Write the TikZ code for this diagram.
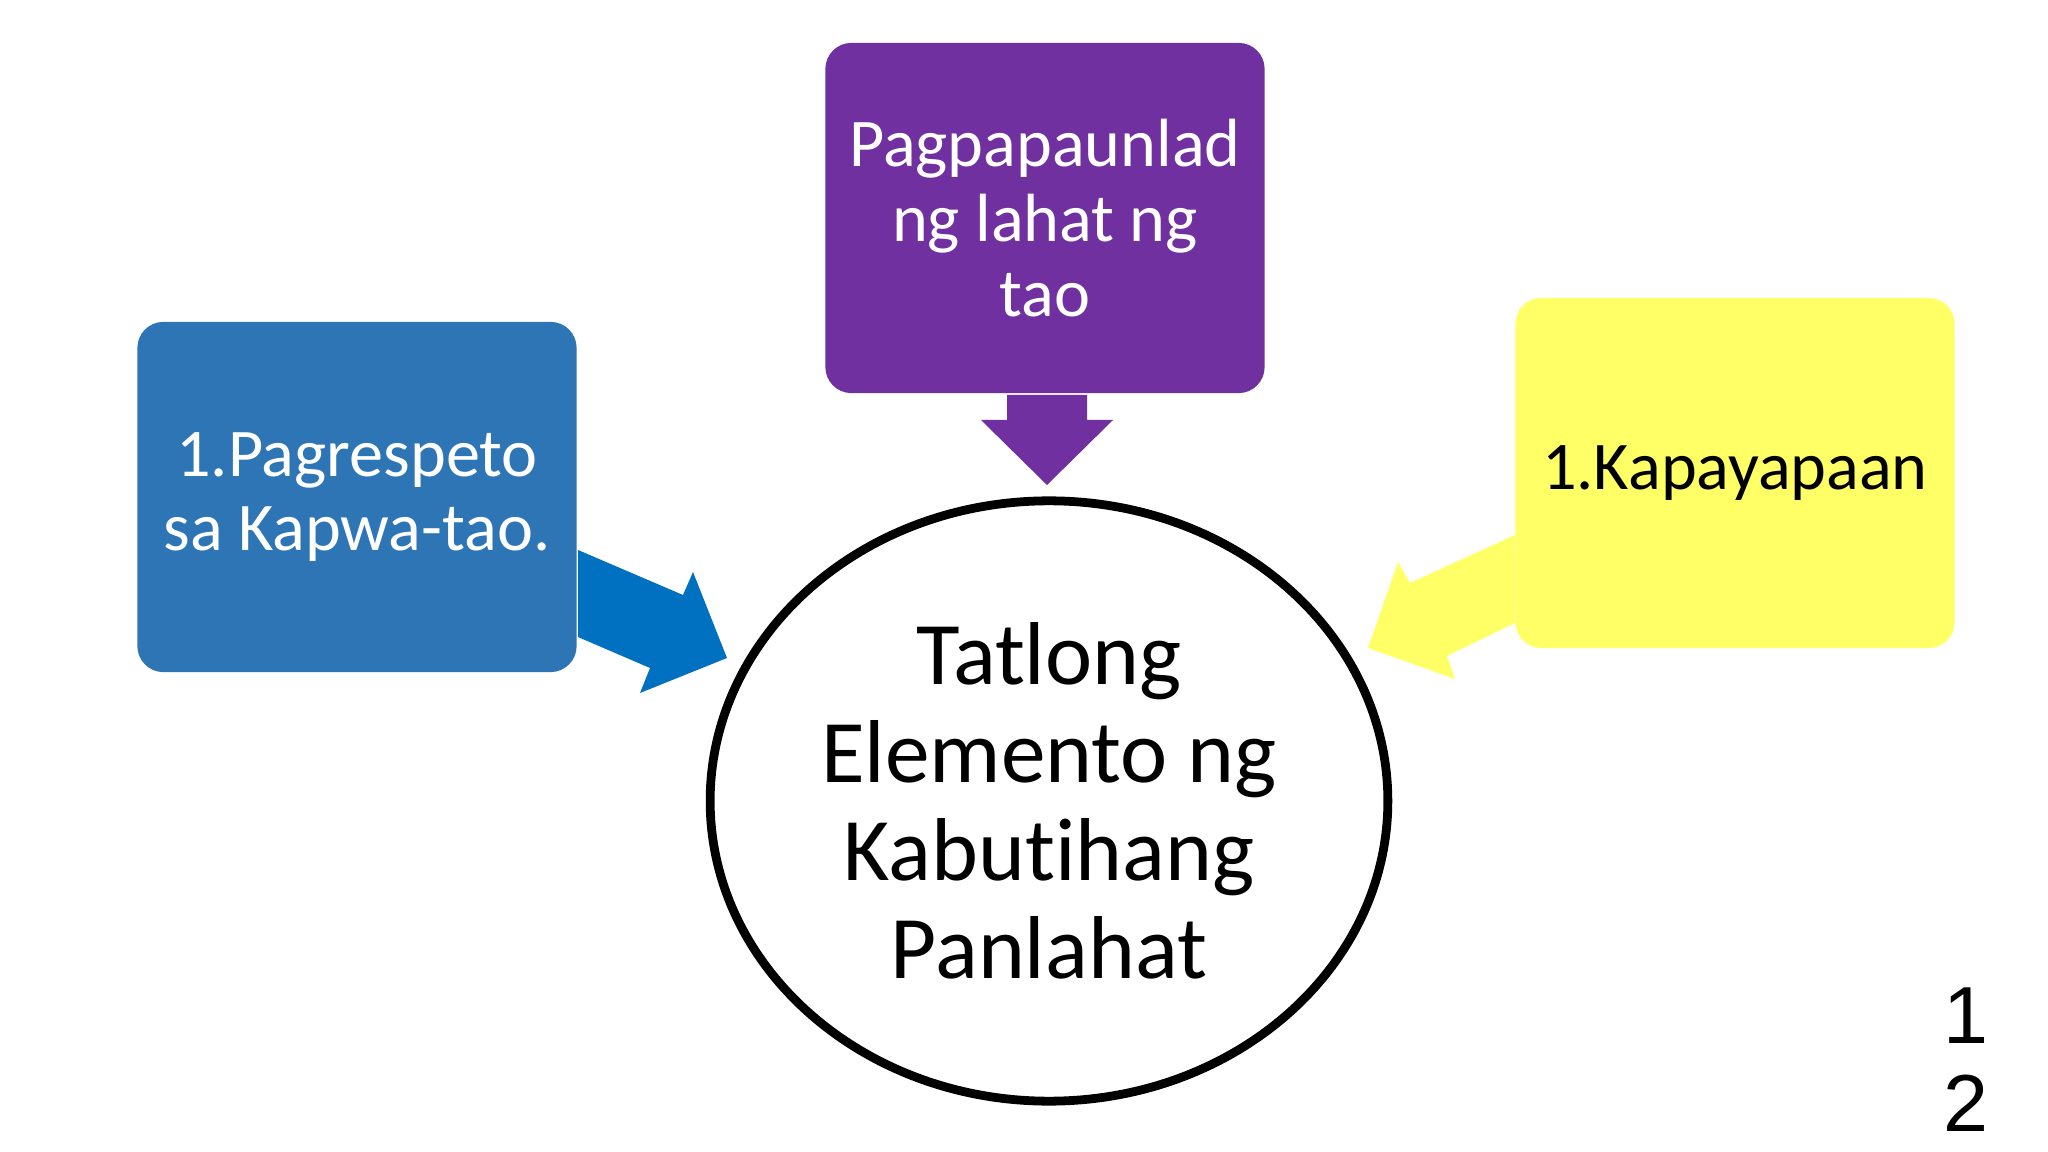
\documentclass[tikz,border=0pt]{standalone}
\usepackage{fontspec}
\setmainfont{Carlito}[Ligatures=NoCommon]
\newfontfamily\pagenumfont{Liberation Sans}
\usetikzlibrary{positioning,shapes.geometric}
\definecolor{boxblue}{HTML}{2E75B6}
\definecolor{arrowblue}{HTML}{0070C0}
\definecolor{boxpurple}{HTML}{7030A0}
\definecolor{boxyellow}{HTML}{FFFF66}

\begin{document}
\begin{tikzpicture}[x=0.01cm,y=-0.01cm,
  box/.style={rounded corners=0.26cm, minimum width=4.39cm, minimum height=3.5cm,
    align=center, inner sep=0pt, font=\fontsize{19.4}{21.3}\selectfont}]
\useasboundingbox[fill=white] (0,0) rectangle (2048,1152);
% boxes
\node[box,fill=boxblue,text=white] (respeto) at (357,497) {1.Pagrespeto\\sa Kapwa-tao.};
\node[box,fill=boxpurple,text=white] (paunlad) at (1045,218) {Pagpapaunlad\\ng lahat ng\\tao};
\node[box,fill=boxyellow,text=black] (payapa) at (1735,473) {1.Kapayapaan};
% center
\node[draw,ellipse,line width=2.5pt,minimum width=6.74cm,minimum height=6.0cm,align=center,
  font=\fontsize{25.4}{27.9}\selectfont] (elemento) at (1049,801)
  {Tatlong\\Elemento ng\\Kabutihang\\Panlahat};
% block arrows
\fill[arrowblue] (578,550) -- (683,595) -- (693,572) -- (727,658) -- (640,693) -- (650,668) -- (578,637) -- cycle;
\fill[boxpurple] (1007,395) -- (1087,395) -- (1087,420) -- (1113,420) -- (1047,485) -- (981,420) -- (1007,420) -- cycle;
\fill[boxyellow] (1515,535) -- (1410,583) -- (1398,562) -- (1368,648) -- (1455,679) -- (1447,656) -- (1515,623) -- cycle;
% page number
\node[align=center,font=\pagenumfont\fontsize{23}{25}\selectfont] (pagenum) at (1966,1060) {1\\2};
\end{tikzpicture}
\end{document}
